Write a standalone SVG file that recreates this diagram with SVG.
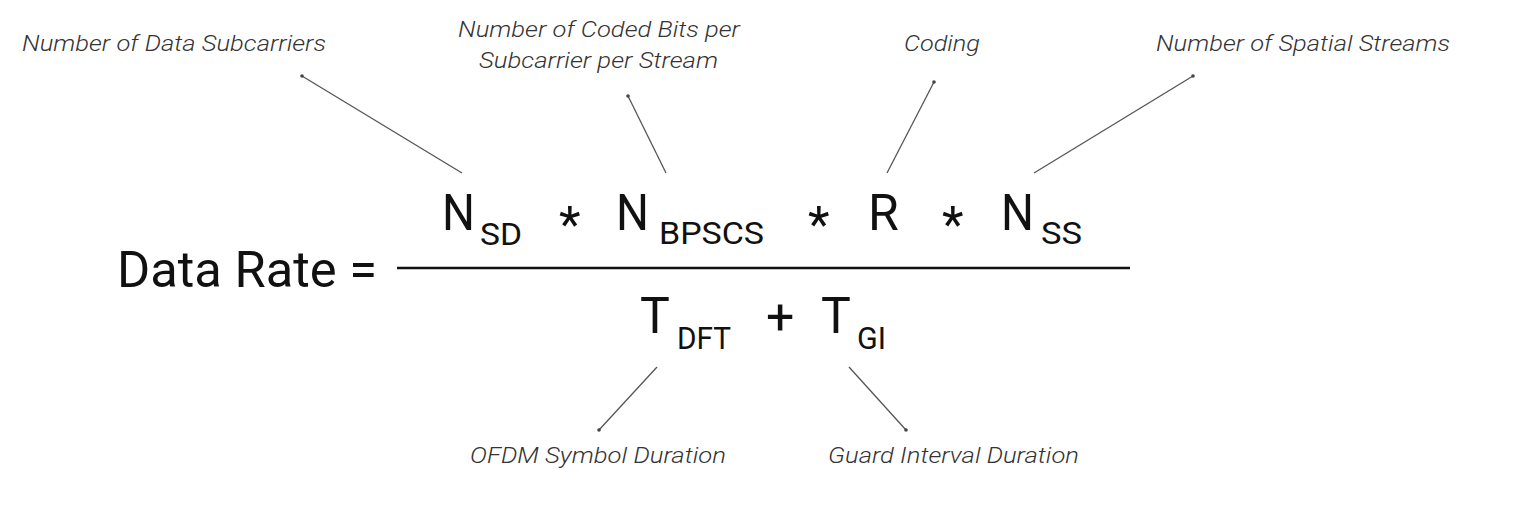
<svg xmlns="http://www.w3.org/2000/svg" width="1536" height="510" viewBox="0 0 1536 510">
<style>
.f{font-family:Roboto,"Liberation Sans",sans-serif;fill:#111}
.big{font-size:50px}
.sub{font-size:32px}
.lbl{font-family:Roboto,"Liberation Sans",sans-serif;font-style:italic;font-weight:300;font-size:21.5px;fill:#333}
.ld{stroke:#555;stroke-width:1.3;fill:none}
.dot{fill:#444}
</style>
<rect width="1536" height="510" fill="#fff"/>
<g id="formula">
<text class="f big" x="117" y="287" textLength="260" lengthAdjust="spacingAndGlyphs">Data Rate =</text>
<line x1="397" y1="268" x2="1130" y2="268" stroke="#111" stroke-width="2.5"/>
</g>
<g id="nsd"><text class="f big" x="442" y="230" textLength="33" lengthAdjust="spacingAndGlyphs">N</text><text class="f sub" x="480" y="245" textLength="42" lengthAdjust="spacingAndGlyphs">SD</text></g>
<text class="f big" x="559" y="242">*</text>
<g id="nbpscs"><text class="f big" x="616" y="230" textLength="33" lengthAdjust="spacingAndGlyphs">N</text><text class="f sub" x="659" y="244" textLength="105" lengthAdjust="spacingAndGlyphs">BPSCS</text></g>
<text class="f big" x="808" y="242">*</text>
<g id="r"><text class="f big" x="868" y="230">R</text></g>
<text class="f big" x="942" y="242">*</text>
<g id="nss"><text class="f big" x="1001" y="230" textLength="33" lengthAdjust="spacingAndGlyphs">N</text><text class="f sub" x="1041" y="244" textLength="41" lengthAdjust="spacingAndGlyphs">SS</text></g>
<g id="tdft"><text class="f big" x="640" y="333">T</text><text class="f sub" x="677" y="349" textLength="54" lengthAdjust="spacingAndGlyphs">DFT</text></g>
<text class="f big" x="766" y="334" font-size="52">+</text>
<g id="tgi"><text class="f big" x="821" y="333">T</text><text class="f sub" x="857" y="349" textLength="29" lengthAdjust="spacingAndGlyphs">GI</text></g>
<g id="labels">
<g id="l-nsd"><text class="lbl" x="22" y="51" textLength="304" lengthAdjust="spacingAndGlyphs">Number of Data Subcarriers</text></g>
<g id="l-nbpscs"><text class="lbl" x="458" y="37" textLength="282" lengthAdjust="spacingAndGlyphs">Number of Coded Bits per</text><text class="lbl" x="479" y="68" textLength="239" lengthAdjust="spacingAndGlyphs">Subcarrier per Stream</text></g>
<g id="l-r"><text class="lbl" x="904" y="51" textLength="76" lengthAdjust="spacingAndGlyphs">Coding</text></g>
<g id="l-nss"><text class="lbl" x="1156" y="51" textLength="294" lengthAdjust="spacingAndGlyphs">Number of Spatial Streams</text></g>
<g id="l-tdft"><text class="lbl" x="470" y="463" textLength="256" lengthAdjust="spacingAndGlyphs">OFDM Symbol Duration</text></g>
<g id="l-tgi"><text class="lbl" x="828" y="463" textLength="251" lengthAdjust="spacingAndGlyphs">Guard Interval Duration</text></g>
</g>
<g id="connectors">
<line class="ld" x1="302" y1="76" x2="462" y2="173"/><circle class="dot" cx="302" cy="76" r="1.8"/>
<line class="ld" x1="628" y1="96" x2="666" y2="173"/><circle class="dot" cx="628" cy="96" r="1.8"/>
<line class="ld" x1="934" y1="82" x2="887" y2="173"/><circle class="dot" cx="934" cy="82" r="1.8"/>
<line class="ld" x1="1193" y1="76" x2="1034" y2="173"/><circle class="dot" cx="1193" cy="76" r="1.8"/>
<line class="ld" x1="657" y1="367" x2="599" y2="430"/><circle class="dot" cx="599" cy="430" r="1.8"/>
<line class="ld" x1="849" y1="367" x2="906" y2="430"/><circle class="dot" cx="906" cy="430" r="1.8"/>
</g>
</svg>
